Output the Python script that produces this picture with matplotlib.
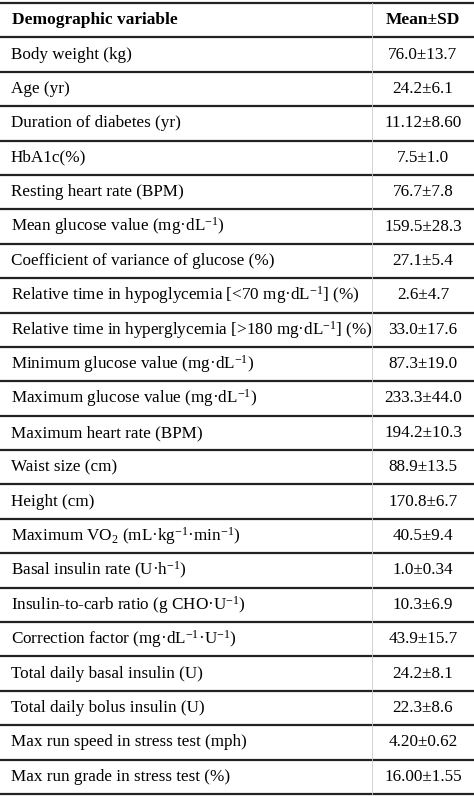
import matplotlib
matplotlib.use("Agg")
import matplotlib.pyplot as plt

plt.rcParams["font.family"] = ["Liberation Serif", "DejaVu Serif"]
plt.rcParams["mathtext.fontset"] = "custom"
plt.rcParams["mathtext.rm"] = "Liberation Serif"
plt.rcParams["mathtext.it"] = "Liberation Serif:italic"
plt.rcParams["mathtext.bf"] = "Liberation Serif:bold"

header = ["Demographic variable", "Mean±SD"]
variables = [
    "Body weight (kg)",
    "Age (yr)",
    "Duration of diabetes (yr)",
    "HbA1c(%)",
    "Resting heart rate (BPM)",
    r"Mean glucose value (mg·dL$^{-1}$)",
    "Coefficient of variance of glucose (%)",
    r"Relative time in hypoglycemia [<70 mg·dL$^{-1}$] (%)",
    r"Relative time in hyperglycemia [>180 mg·dL$^{-1}$] (%)",
    r"Minimum glucose value (mg·dL$^{-1}$)",
    r"Maximum glucose value (mg·dL$^{-1}$)",
    "Maximum heart rate (BPM)",
    "Waist size (cm)",
    "Height (cm)",
    r"Maximum VO$_2$ (mL·kg$^{-1}$·min$^{-1}$)",
    r"Basal insulin rate (U·h$^{-1}$)",
    r"Insulin-to-carb ratio (g CHO·U$^{-1}$)",
    r"Correction factor (mg·dL$^{-1}$·U$^{-1}$)",
    "Total daily basal insulin (U)",
    "Total daily bolus insulin (U)",
    "Max run speed in stress test (mph)",
    "Max run grade in stress test (%)",
]
values = [
    "76.0±13.7", "24.2±6.1", "11.12±8.60", "7.5±1.0", "76.7±7.8",
    "159.5±28.3", "27.1±5.4", "2.6±4.7", "33.0±17.6", "87.3±19.0",
    "233.3±44.0", "194.2±10.3", "88.9±13.5", "170.8±6.7", "40.5±9.4",
    "1.0±0.34", "10.3±6.9", "43.9±15.7", "24.2±8.1", "22.3±8.6",
    "4.20±0.62", "16.00±1.55",
]

W, H = 474, 796
fig = plt.figure(figsize=(W / 100, H / 100), dpi=100)
ax = fig.add_axes([0, 0, 1, 1])
ax.set_xlim(0, W)
ax.set_ylim(H, 0)
ax.axis("off")

top, bottom = 3, 794
n = len(variables) + 1
rh = (bottom - top) / n
col_split = 372
val_center = 423

# horizontal rules
for i in range(n + 1):
    y = top + i * rh
    ax.plot([0, W], [y, y], color="#222222", lw=1.6, solid_capstyle="butt")
ax.plot([col_split, col_split], [top, bottom], color="#cccccc", lw=0.6)

# header
yc = top + rh / 2
ax.text(12, yc, header[0], fontsize=12.5, fontweight="bold", va="center", ha="left")
ax.text(val_center, yc, header[1], fontsize=12.5, fontweight="bold", va="center", ha="center")

for i, (name, val) in enumerate(zip(variables, values)):
    yc = top + (i + 1.5) * rh
    ax.text(11, yc, name, fontsize=12.3, va="center", ha="left")
    ax.text(val_center, yc, val, fontsize=12.3, va="center", ha="center")

fig.savefig("out.png", dpi=100)
